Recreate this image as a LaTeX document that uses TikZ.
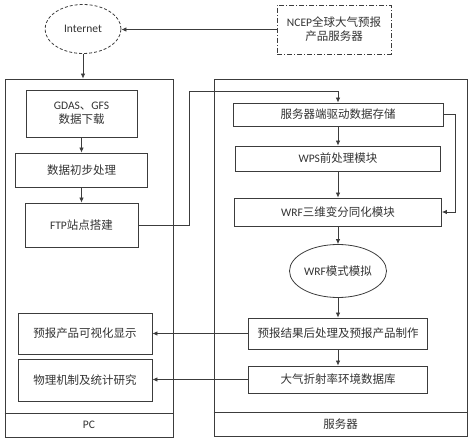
\documentclass[tikz,border=0pt]{standalone}
\usepackage{fontspec}
\setmainfont{Carlito}
\newfontfamily\cjk{Noto Sans CJK SC}
\usetikzlibrary{arrows.meta,shapes.geometric}
\definecolor{ln}{HTML}{3C3C3C}
\definecolor{tx}{HTML}{333333}
\begin{document}
\begin{tikzpicture}[x=1pt,y=-1pt,
  font=\fontsize{11.5}{14}\selectfont, text=tx,
  box/.style={draw=ln,line width=0.8pt,fill=white,rectangle,inner sep=0pt,align=center},
  frame/.style={draw=ln,line width=0.8pt,rectangle,inner sep=0pt},
  arr/.style={draw=ln,line width=0.8pt,-{Latex[length=5pt,width=4.5pt]}},
  ln/.style={draw=ln,line width=0.8pt}]
\useasboundingbox (0,0) rectangle (474,443);
% outer frames
\node[frame,minimum width=168pt,minimum height=358pt] (pcbox) at (89,258) {};
\node[frame,minimum width=253pt,minimum height=357pt] (svbox) at (340.5,257.5) {};
\draw[ln] (pcbox.west |- 0,413) -- (pcbox.east |- 0,413);
\draw[ln] (svbox.west |- 0,412) -- (svbox.east |- 0,412);
\node (pclabel) at (89,425) {PC};
\node (svlabel) at (340.5,424) {\cjk 服务器};
% top
\node[draw=ln,line width=0.8pt,dash pattern=on 3pt off 2pt,ellipse,minimum width=76pt,minimum height=49pt,inner sep=0pt] (inet) at (83,29) {Internet};
\node[box,dash pattern=on 5pt off 2pt on 1pt off 2pt,minimum width=114pt,minimum height=49pt] (ncep) at (334,29.5) {NCEP{\cjk 全球大气预报}\\{\cjk 产品服务器}};
% PC column
\node[box,minimum width=111pt,minimum height=47pt] (gdas) at (81.5,113.5) {GDAS{\cjk 、}GFS\\{\cjk 数据下载}};
\node[box,minimum width=132pt,minimum height=34pt] (pre) at (81.5,170) {\cjk 数据初步处理};
\node[box,minimum width=113pt,minimum height=44pt] (ftp) at (81.5,225) {FTP{\cjk 站点搭建}};
\node[box,minimum width=134pt,minimum height=41pt] (vis) at (85,333.5) {\cjk 预报产品可视化显示};
\node[box,minimum width=134pt,minimum height=42pt] (phy) at (85,380) {\cjk 物理机制及统计研究};
% server column
\node[box,minimum width=210pt,minimum height=23pt] (store) at (338,114.5) {\cjk 服务器端驱动数据存储};
\node[box,minimum width=205pt,minimum height=25pt] (wps) at (338,158.5) {WPS{\cjk 前处理模块}};
\node[box,minimum width=207pt,minimum height=28pt] (var) at (338,212) {WRF{\cjk 三维变分同化模块}};
\node[draw=ln,line width=0.8pt,fill=white,ellipse,minimum width=97pt,minimum height=53pt,inner sep=0pt] (wrf) at (338,271) {WRF{\cjk 模式模拟}};
\node[box,minimum width=179pt,minimum height=31pt] (post) at (338,333.5) {\cjk 预报结果后处理及预报产品制作};
\node[box,minimum width=179pt,minimum height=27pt] (db) at (338,379.5) {\cjk 大气折射率环境数据库};
% connectors
\draw[arr] (ncep.west) -- (inet.east |- ncep.west);
\draw[arr] (inet.south) -- (inet.south |- pcbox.north);
\draw[arr] (gdas.south) -- (pre.north);
\draw[arr] (pre.south) -- (ftp.north);
\coordinate (c1) at (189,91);
\draw[arr] (ftp.east) -| (c1) -| (store.north);
\draw[arr] (store.south) -- (wps.north);
\draw[arr] (wps.south) -- (var.north);
\draw[arr] (store.east) -- ++(12,0) |- (var.east);
\draw[arr] (var.south) -- (wrf.north);
\draw[arr] (wrf.south) -- (post.north);
\draw[arr] (post.south) -- (db.north);
\draw[arr] (post.west) -- (vis.east);
\draw[arr] (db.west) -- (phy.east |- db.west);
\end{tikzpicture}
\end{document}
